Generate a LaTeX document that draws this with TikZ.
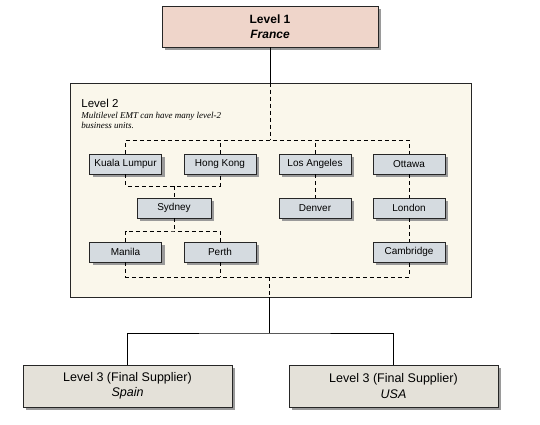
\documentclass[tikz,border=0pt]{standalone}
\usepackage{fontspec}
\setmainfont{Liberation Sans}
\newfontfamily\notefont{Liberation Serif}
\usetikzlibrary{positioning,shadows,calc}

\definecolor{lvlone}{HTML}{EFD5CA}
\definecolor{lvltwo}{HTML}{FAF7EB}
\definecolor{unitfill}{HTML}{D5DBE0}
\definecolor{lvlthree}{HTML}{E4E1D9}
\definecolor{shadowgray}{HTML}{9A9A9A}

\begin{document}
\begin{tikzpicture}[x=1pt, y=-1pt, line width=0.8pt,
        box/.style={draw=black!85, inner sep=0pt, align=center, drop shadow={shadow xshift=3pt, shadow yshift=-3pt, fill=shadowgray, opacity=1}},
        unit/.style={box, fill=unitfill, minimum width=72pt, minimum height=20pt, font=\fontsize{10}{12}\selectfont},
        supplier/.style={box, fill=lvlthree, minimum width=209pt, minimum height=42pt, font=\fontsize{12.5}{15.5}\selectfont},
        link/.style={dash pattern=on 4pt off 3pt}]
        \useasboundingbox (0,0) rectangle (540,424);

        % level 2 frame
        \node [draw=black!85, fill=lvltwo, minimum width=401pt, minimum height=214pt, inner sep=0pt] (level2) at (270.5,190) {};
        \node [anchor=base west, inner sep=0pt, font=\fontsize{11.5}{13}\selectfont] (title2) at (81,107) {Level 2};
        \node [anchor=north west, inner sep=0pt, align=left, font=\notefont\itshape\fontsize{9}{10}\selectfont] (note) at (81,111.5) {Multilevel EMT can have many level-2\\business units.};

        \node [box, fill=lvlone, minimum width=216pt, minimum height=41pt, font=\fontsize{12}{15}\selectfont] (level1) at (270,26.5) {\textbf{Level 1}\\\textbf{\textit{France}}};

        \node [unit] (kuala) at (125.5,164) {Kuala Lumpur};
        \node [unit] (hongkong) at (220,164) {Hong Kong};
        \node [unit] (losangeles) at (315,164) {Los Angeles};
        \node [unit] (ottawa) at (409,164) {Ottawa};
        \node [unit, minimum width=74pt] (sydney) at (174,208) {Sydney};
        \node [unit] (denver) at (315,208) {Denver};
        \node [unit] (london) at (409,208) {London};
        \node [unit] (manila) at (125.5,252) {Manila};
        \node [unit] (perth) at (220,252) {Perth};
        \node [unit] (cambridge) at (409,252) {Cambridge};

        \node [supplier] (spain) at (127.5,386) {Level 3 (Final Supplier)\\\textit{Spain}};
        \node [supplier] (usa) at (393.5,386) {Level 3 (Final Supplier)\\\textit{USA}};

        \coordinate (topbus) at (270,140);
        \coordinate (asiabus) at (174,186);
        \coordinate (sydbus) at (174,231);
        \coordinate (lowbus) at (269,277);
        \coordinate (splitbus) at (269,333);

        \draw (level1) -- (level1 |- level2.north);
        \draw [link] (level1 |- level2.north) -- (topbus);
        \draw [link] (kuala) -- (kuala |- topbus) -- (ottawa |- topbus) -- (ottawa);
        \draw [link] (hongkong) -- (hongkong |- topbus);
        \draw [link] (losangeles) -- (losangeles |- topbus);
        \draw [link] (kuala) |- (asiabus) -| (hongkong);
        \draw [link] (asiabus) -- (sydney);
        \draw [link] (sydney) -- (sydbus);
        \draw [link] (manila) |- (sydbus) -| (perth);
        \draw [link] (losangeles) -- (denver);
        \draw [link] (ottawa) -- (london);
        \draw [link] (london) -- (cambridge);
        \draw [link] (manila) |- (lowbus) -| (cambridge);
        \draw [link] (perth) -- (perth |- lowbus);
        \draw [link] (lowbus) -- (lowbus |- level2.south);
        \draw (lowbus |- level2.south) -- (splitbus);
        \draw (spain) |- (splitbus) -| (usa);
    \end{tikzpicture}
\end{document}
